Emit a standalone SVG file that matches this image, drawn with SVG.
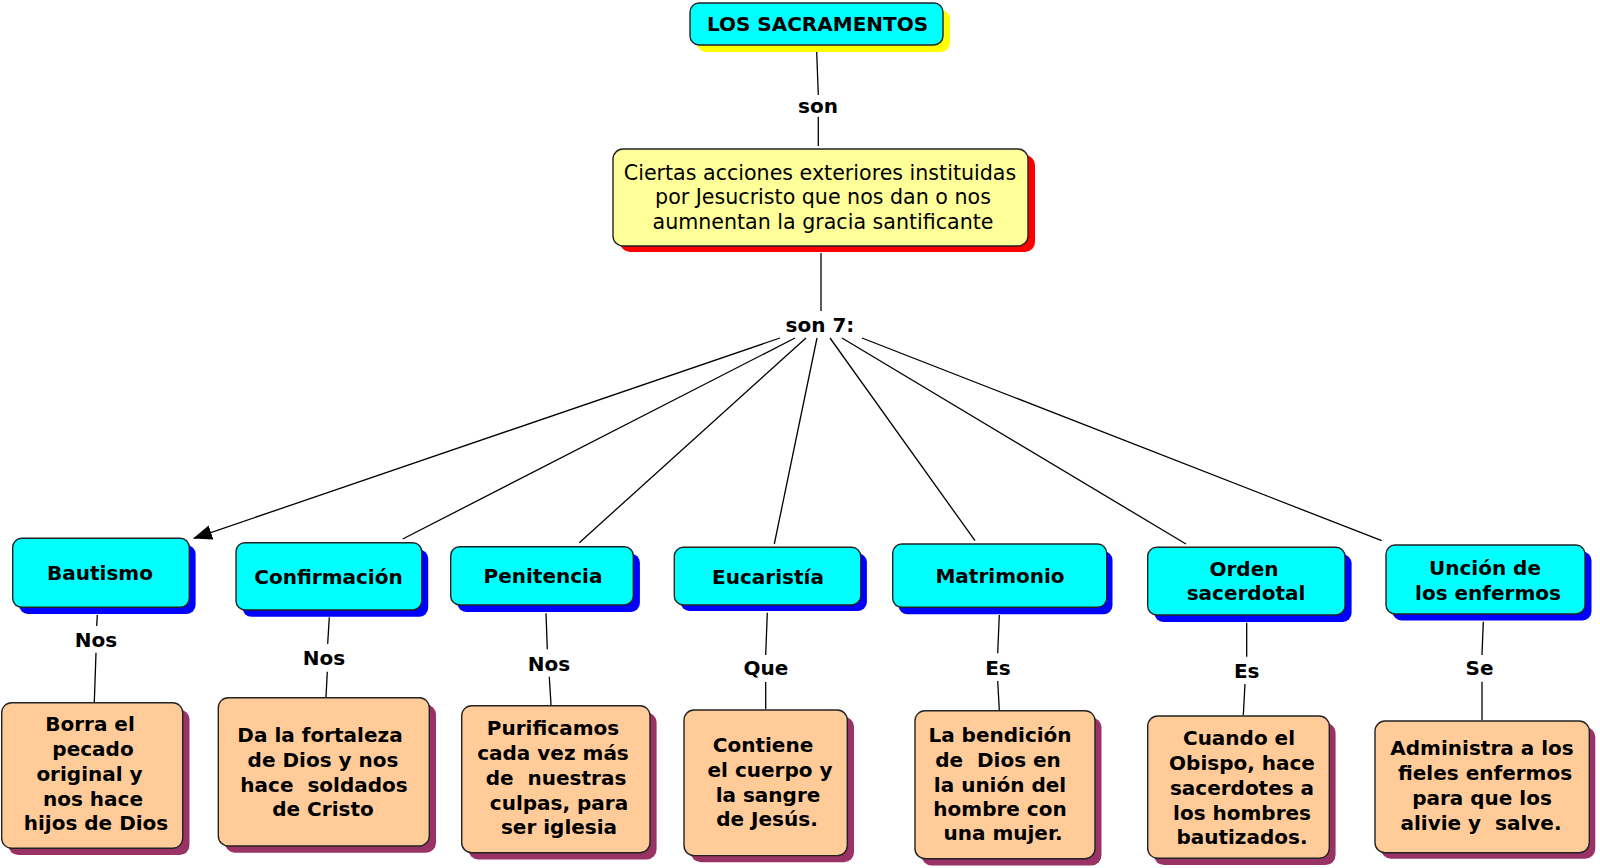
<svg xmlns="http://www.w3.org/2000/svg" width="1600" height="868" viewBox="0 0 1600 868">
<defs>
<style>
text{font-family:"DejaVu Sans","Verdana","Liberation Sans",sans-serif;font-size:20px;fill:#000;text-anchor:middle;white-space:pre}
.b{font-weight:bold}
.r{font-size:20.6px}
.box{stroke:#222;stroke-width:1.4}
.c{fill:#00FFFF}
.cs{fill:#0000FF}
.o{fill:#FFCC99}
.os{fill:#993366}
.y{fill:#FFFF99}
.l{stroke:#000;stroke-width:1.3;fill:none}
</style>
<marker id="ah" markerWidth="19" markerHeight="15" refX="18" refY="7.5" orient="auto" markerUnits="userSpaceOnUse">
<path d="M0,0 L19,7.5 L0,15 z" fill="#000"/>
</marker>
</defs>
<rect width="1600" height="868" fill="#fff"/>

<g id="connectors">
<path class="l" d="M816.7,51.7 L818.3,95"/>
<path class="l" d="M818.3,116.7 L818.3,146"/>
<path class="l" d="M821,253 L821,311"/>
<path class="l" d="M780,338 L194,538.3" marker-end="url(#ah)"/>
<path class="l" d="M795,338 L402.7,539"/>
<path class="l" d="M806,338 L579.3,542.7"/>
<path class="l" d="M817,338 L774.3,544"/>
<path class="l" d="M830,338 L975,540.7"/>
<path class="l" d="M842,338 L1186,544"/>
<path class="l" d="M862,338 L1381.7,540.7"/>
<path class="l" d="M97.3,615 L96.7,626"/>
<path class="l" d="M96,652.7 L94.3,702"/>
<path class="l" d="M329.3,617.3 L327.7,644"/>
<path class="l" d="M327.3,671.7 L326,697"/>
<path class="l" d="M546,613.3 L547.3,649.3"/>
<path class="l" d="M549.3,676.7 L551,705"/>
<path class="l" d="M767.3,612.7 L765.7,655"/>
<path class="l" d="M765.7,682 L765.7,709"/>
<path class="l" d="M999.3,615 L997.7,653.3"/>
<path class="l" d="M997.7,681 L999.3,710"/>
<path class="l" d="M1246.7,622.7 L1246.7,656.7"/>
<path class="l" d="M1245,684 L1243.3,715"/>
<path class="l" d="M1483.3,621.7 L1482,655"/>
<path class="l" d="M1482,681.7 L1482,720"/>
<g id="labels">
<text class="b" x="818" y="113">son</text>
<text class="b" x="820" y="332">son 7:</text>
<text class="b" x="96" y="647">Nos</text>
<text class="b" x="324" y="665">Nos</text>
<text class="b" x="549" y="671">Nos</text>
<text class="b" x="766" y="674.5">Que</text>
<text class="b" x="998" y="674.5">Es</text>
<text class="b" x="1246.7" y="678">Es</text>
<text class="b" x="1479.5" y="674.5">Se</text>
</g>
</g>

<g id="n-top">
<rect x="697" y="10" width="253" height="42" rx="9" fill="#FFFF00"/>
<rect class="box c" x="690" y="3" width="253" height="42" rx="9"/>
<text class="b" x="817.5" y="30.5">LOS SACRAMENTOS</text>
</g>

<g id="n-def">
<rect x="620" y="155" width="415" height="97" rx="10" fill="#FF0000"/>
<rect class="box y" x="613" y="149" width="415" height="97" rx="10"/>
<text class="r" x="820" y="179.7">Ciertas acciones exteriores instituidas</text>
<text class="r" x="823" y="204.3">por Jesucristo que nos dan o nos</text>
<text class="r" x="823" y="228.7">aumnentan la gracia santificante</text>
</g>

<g id="n-bautismo">
<rect class="cs" x="19" y="545" width="176.6" height="69" rx="9"/>
<rect class="box c" x="12.7" y="538.3" width="176.6" height="69" rx="9"/>
<text class="b" x="100" y="579.7">Bautismo</text>
</g>
<g id="n-confirmacion">
<rect class="cs" x="242.5" y="549.5" width="185.7" height="67.3" rx="9"/>
<rect class="box c" x="236" y="542.7" width="185.7" height="67.3" rx="9"/>
<text class="b" x="328.5" y="584.3">Confirmación</text>
</g>
<g id="n-penitencia">
<rect class="cs" x="457.3" y="553.7" width="182.6" height="58.3" rx="9"/>
<rect class="box c" x="450.7" y="546.7" width="182.6" height="58.3" rx="9"/>
<text class="b" x="543" y="583">Penitencia</text>
</g>
<g id="n-eucaristia">
<rect class="cs" x="680.5" y="553.3" width="186.4" height="57.7" rx="9"/>
<rect class="box c" x="674.3" y="547.3" width="186.4" height="57.7" rx="9"/>
<text class="b" x="768" y="583.7">Eucaristía</text>
</g>
<g id="n-matrimonio">
<rect class="cs" x="898.5" y="551" width="214" height="63.3" rx="9"/>
<rect class="box c" x="892.7" y="544" width="214" height="63.3" rx="9"/>
<text class="b" x="1000" y="583">Matrimonio</text>
</g>
<g id="n-orden">
<rect class="cs" x="1154.3" y="554.3" width="197.3" height="67.7" rx="9"/>
<rect class="box c" x="1147.7" y="547.3" width="197.3" height="67.7" rx="9"/>
<text class="b" x="1244" y="576.3">Orden</text>
<text class="b" x="1246" y="600.3">sacerdotal</text>
</g>
<g id="n-uncion">
<rect class="cs" x="1392.5" y="551.5" width="199" height="69" rx="9"/>
<rect class="box c" x="1386" y="545" width="199" height="69" rx="9"/>
<text class="b" x="1485" y="575.3">Unción de</text>
<text class="b" x="1488" y="600.3">los enfermos</text>
</g>

<g id="d-bautismo">
<rect class="os" x="8.5" y="709.5" width="181" height="145.6" rx="10"/>
<rect class="box o" x="1.7" y="702.7" width="181" height="145.6" rx="10"/>
<text class="b" x="90" y="731">Borra el</text>
<text class="b" x="93" y="756.3">pecado</text>
<text class="b" x="89.5" y="781">original y</text>
<text class="b" x="93" y="805.7">nos hace</text>
<text class="b" x="96" y="830.3">hijos de Dios</text>
</g>
<g id="d-confirmacion">
<rect class="os" x="225" y="704.5" width="211" height="148.3" rx="10"/>
<rect class="box o" x="218.3" y="697.7" width="211" height="148.3" rx="10"/>
<text class="b" x="320" y="742">Da la fortaleza</text>
<text class="b" x="323" y="767">de Dios y nos</text>
<text class="b" x="324" y="792">hace  soldados</text>
<text class="b" x="323" y="816.3">de Cristo</text>
</g>
<g id="d-penitencia">
<rect class="os" x="468.3" y="712.5" width="188.3" height="147" rx="10"/>
<rect class="box o" x="461.7" y="705.7" width="188.3" height="147" rx="10"/>
<text class="b" x="553" y="735.3">Purificamos</text>
<text class="b" x="553" y="760.3">cada vez más</text>
<text class="b" x="556" y="784.7">de  nuestras</text>
<text class="b" x="559" y="809.7">culpas, para</text>
<text class="b" x="559" y="833.7">ser iglesia</text>
</g>
<g id="d-eucaristia">
<rect class="os" x="690.7" y="716.7" width="163.3" height="145.6" rx="10"/>
<rect class="box o" x="684" y="710" width="163.3" height="145.6" rx="10"/>
<text class="b" x="763" y="752">Contiene</text>
<text class="b" x="770" y="777">el cuerpo y</text>
<text class="b" x="768" y="802">la sangre</text>
<text class="b" x="767" y="826.3">de Jesús.</text>
</g>
<g id="d-matrimonio">
<rect class="os" x="921.5" y="717.5" width="180" height="148" rx="10"/>
<rect class="box o" x="915" y="710.7" width="180" height="148" rx="10"/>
<text class="b" x="1000" y="742">La bendición</text>
<text class="b" x="998" y="767">de  Dios en</text>
<text class="b" x="1000" y="792">la unión del</text>
<text class="b" x="1000" y="816.3">hombre con</text>
<text class="b" x="1003" y="840.3">una mujer.</text>
</g>
<g id="d-orden">
<rect class="os" x="1154" y="722.8" width="181.6" height="142.3" rx="10"/>
<rect class="box o" x="1147.7" y="716" width="181.6" height="142.3" rx="10"/>
<text class="b" x="1239" y="745.3">Cuando el</text>
<text class="b" x="1242" y="770.3">Obispo, hace</text>
<text class="b" x="1242" y="794.7">sacerdotes a</text>
<text class="b" x="1242" y="819.7">los hombres</text>
<text class="b" x="1242" y="844.3">bautizados.</text>
</g>
<g id="d-uncion">
<rect class="os" x="1381" y="727" width="214.3" height="131.7" rx="10"/>
<rect class="box o" x="1375" y="721" width="214.3" height="131.7" rx="10"/>
<text class="b" x="1482" y="755.3">Administra a los</text>
<text class="b" x="1485" y="780.3">fieles enfermos</text>
<text class="b" x="1482" y="805.3">para que los</text>
<text class="b" x="1481" y="829.7">alivie y  salve.</text>
</g>
</svg>
